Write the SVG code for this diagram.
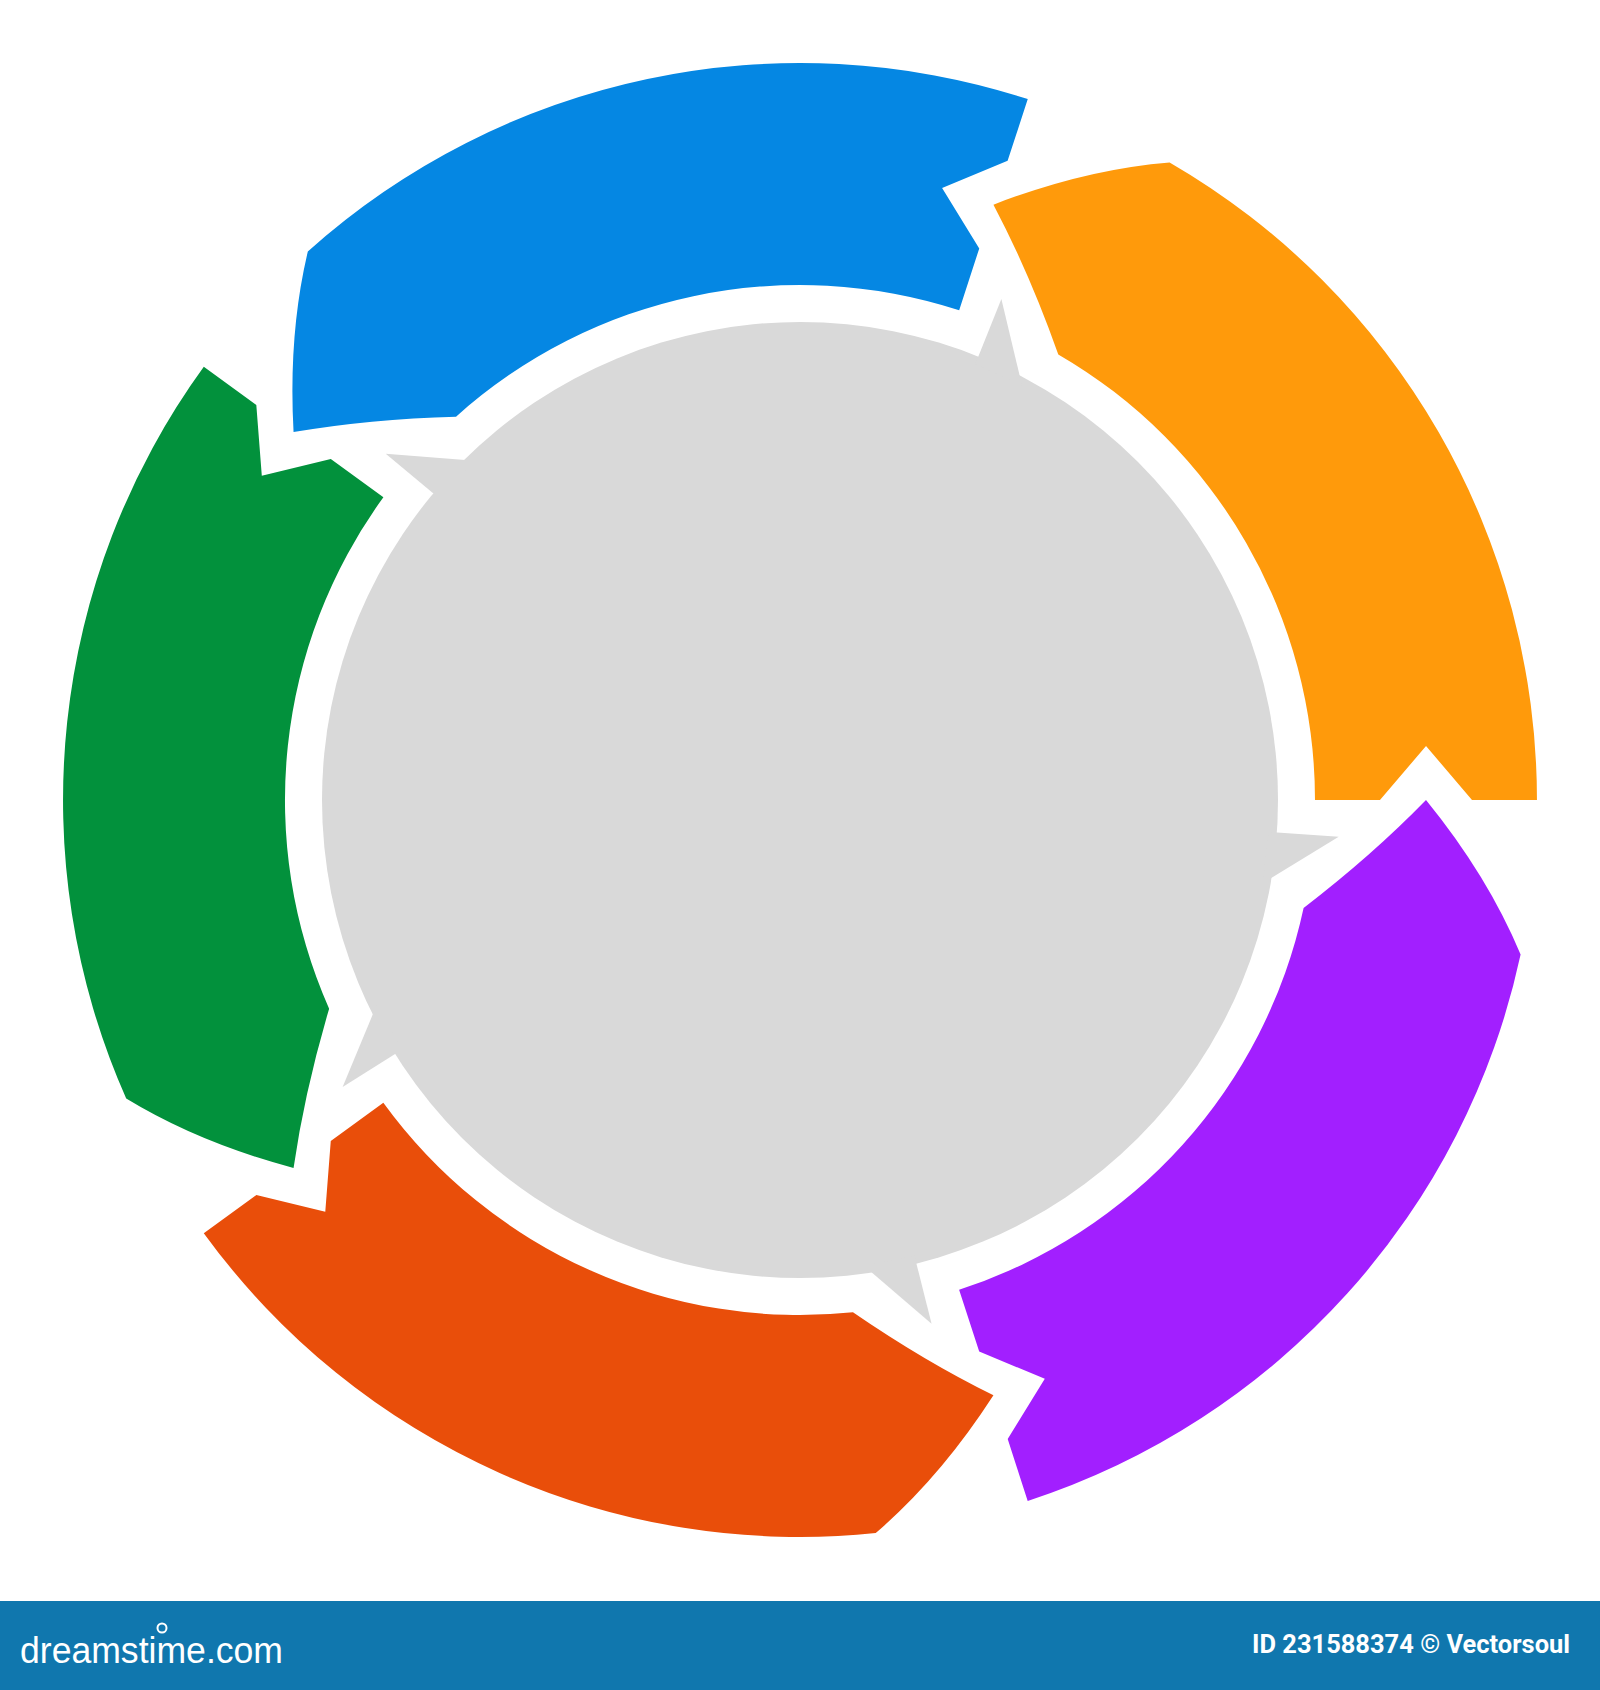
<svg xmlns="http://www.w3.org/2000/svg" width="1600" height="1690" viewBox="0 0 1600 1690">
  <defs>
    <style>
      .seg { stroke: none; }
      .grey { fill: #D9D9D9; }
      .bar { fill: #1077AE; }
      .logo { fill: #FFFFFF; font-family: "Liberation Sans", Arial, sans-serif; }
      .credit { fill: #FFFFFF; font-family: Roboto, "Liberation Sans", Arial, sans-serif; font-weight: bold; }
    </style>
    <path id="segShape" d="M800,174 Q875.9,112.2 954.5,79.4 A737,737 0 0 1 1500.9,572.3 L1439.1,592.3 L1378.7,555.2 L1351.6,620.8 L1289.8,640.9 A515,515 0 0 0 907.95,296.4 Q855.1,227.6 800,174 Z"/>
    <polygon id="tabShape" points="832,331.1 836.7,261.3 883.2,337.4"/>
  </defs>
  <rect width="1600" height="1690" fill="#FFFFFF"/>

  <g id="center" class="grey">
    <circle cx="800" cy="800" r="478"/>
    <use href="#tabShape" transform="rotate(18 800 800)"/>
    <use href="#tabShape" transform="rotate(90 800 800)"/>
    <use href="#tabShape" transform="rotate(162 800 800)"/>
    <use href="#tabShape" transform="rotate(234 800 800)"/>
    <use href="#tabShape" transform="rotate(306 800 800)"/>
  </g>

  <g id="connectors"></g>

  <g id="arrow-orange"><use href="#segShape" class="seg" fill="#FF9A0B" transform="rotate(18 800 800)"/></g>
  <g id="arrow-purple"><use href="#segShape" class="seg" fill="#A21FFF" transform="rotate(90 800 800)"/></g>
  <g id="arrow-red"><use href="#segShape" class="seg" fill="#E94E0A" transform="rotate(162 800 800)"/></g>
  <g id="arrow-green"><use href="#segShape" class="seg" fill="#02913C" transform="rotate(234 800 800)"/></g>
  <g id="arrow-blue"><use href="#segShape" class="seg" fill="#0587E3" transform="rotate(306 800 800)"/></g>

  <g id="banner">
    <rect class="bar" x="0" y="1601" width="1600" height="89"/>
    <text class="logo" x="20" y="1663" font-size="36" textLength="263" lengthAdjust="spacingAndGlyphs">dreamstime.com</text>
    <circle cx="162" cy="1628" r="4.5" fill="none" stroke="#FFFFFF" stroke-width="2"/>
    <text class="credit" x="1252" y="1653" font-size="25.5" textLength="318" lengthAdjust="spacingAndGlyphs">ID 231588374 © Vectorsoul</text>
  </g>
</svg>
